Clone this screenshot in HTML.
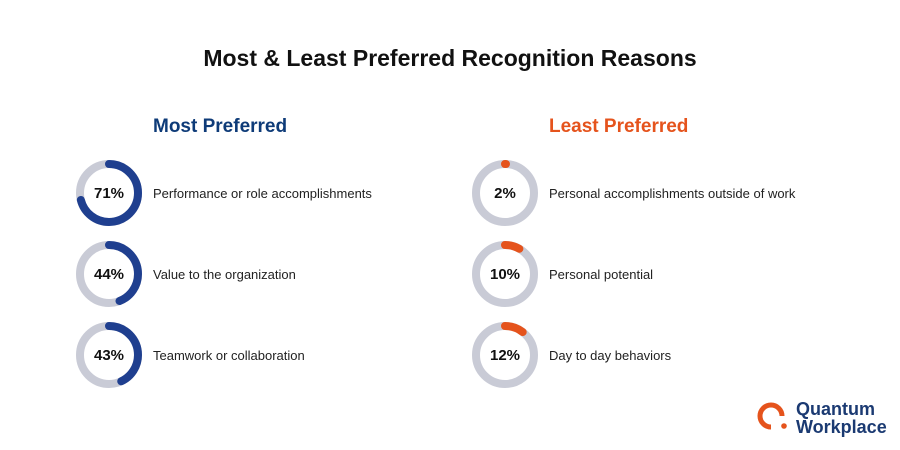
<!DOCTYPE html>
<html><head><style>
body{margin:0;width:900px;height:450px;background:#fff;font-family:"Liberation Sans",sans-serif;position:relative;overflow:hidden}
.t{position:absolute;white-space:nowrap}
</style></head><body>
<div class="t" style="left:0;width:900px;text-align:center;top:45px;font-size:23px;font-weight:bold;color:#111">Most &amp; Least Preferred Recognition Reasons</div>
<div class="t" style="left:153px;top:116px;font-size:19px;font-weight:bold;color:#0e3b78">Most Preferred</div>
<div class="t" style="left:549px;top:116px;font-size:19px;font-weight:bold;color:#e5531c">Least Preferred</div>
<svg width="900" height="450" style="position:absolute;left:0;top:0">
<g fill="none" stroke-width="8" stroke-linecap="round">
<circle cx="109" cy="193" r="29" stroke="#c9cbd6"/>
<circle cx="109" cy="274" r="29" stroke="#c9cbd6"/>
<circle cx="109" cy="355" r="29" stroke="#c9cbd6"/>
<circle cx="505" cy="193" r="29" stroke="#c9cbd6"/>
<circle cx="505" cy="274" r="29" stroke="#c9cbd6"/>
<circle cx="505" cy="355" r="29" stroke="#c9cbd6"/>
<circle cx="109" cy="193" r="29" stroke="#1f3f8f" stroke-dasharray="129.4 200" transform="rotate(-90 109 193)"/>
<circle cx="109" cy="274" r="29" stroke="#1f3f8f" stroke-dasharray="80.2 200" transform="rotate(-90 109 274)"/>
<circle cx="109" cy="355" r="29" stroke="#1f3f8f" stroke-dasharray="78.3 200" transform="rotate(-90 109 355)"/>
<circle cx="505" cy="193" r="29" stroke="#e5531c" stroke-dasharray="1 200" transform="rotate(-90 505 193)"/>
<circle cx="505" cy="274" r="29" stroke="#e5531c" stroke-dasharray="15 200" transform="rotate(-90 505 274)"/>
<circle cx="505" cy="355" r="29" stroke="#e5531c" stroke-dasharray="19 200" transform="rotate(-90 505 355)"/>
<path d="M771 427 A11 11 0 1 1 782 416" stroke="#e5531c" stroke-width="5" stroke-linecap="butt"/>
</g>
<circle cx="784" cy="426" r="2.8" fill="#e5531c"/>
<g font-family="Liberation Sans,sans-serif" font-weight="bold" font-size="15" text-anchor="middle" fill="#111">
<text x="109" y="198">71%</text><text x="109" y="279">44%</text><text x="109" y="360">43%</text>
<text x="505" y="198">2%</text><text x="505" y="279">10%</text><text x="505" y="360">12%</text>
</g>
<g font-family="Liberation Sans,sans-serif" font-size="13" fill="#222">
<text x="153" y="198">Performance or role accomplishments</text>
<text x="153" y="279">Value to the organization</text>
<text x="153" y="360">Teamwork or collaboration</text>
<text x="549" y="198">Personal accomplishments outside of work</text>
<text x="549" y="279">Personal potential</text>
<text x="549" y="360">Day to day behaviors</text>
</g>
<g font-family="Liberation Sans,sans-serif" font-weight="bold" font-size="18" fill="#1b3a72">
<text x="796" y="415">Quantum</text><text x="796" y="433">Workplace</text>
</g>
</svg>
</body></html>
